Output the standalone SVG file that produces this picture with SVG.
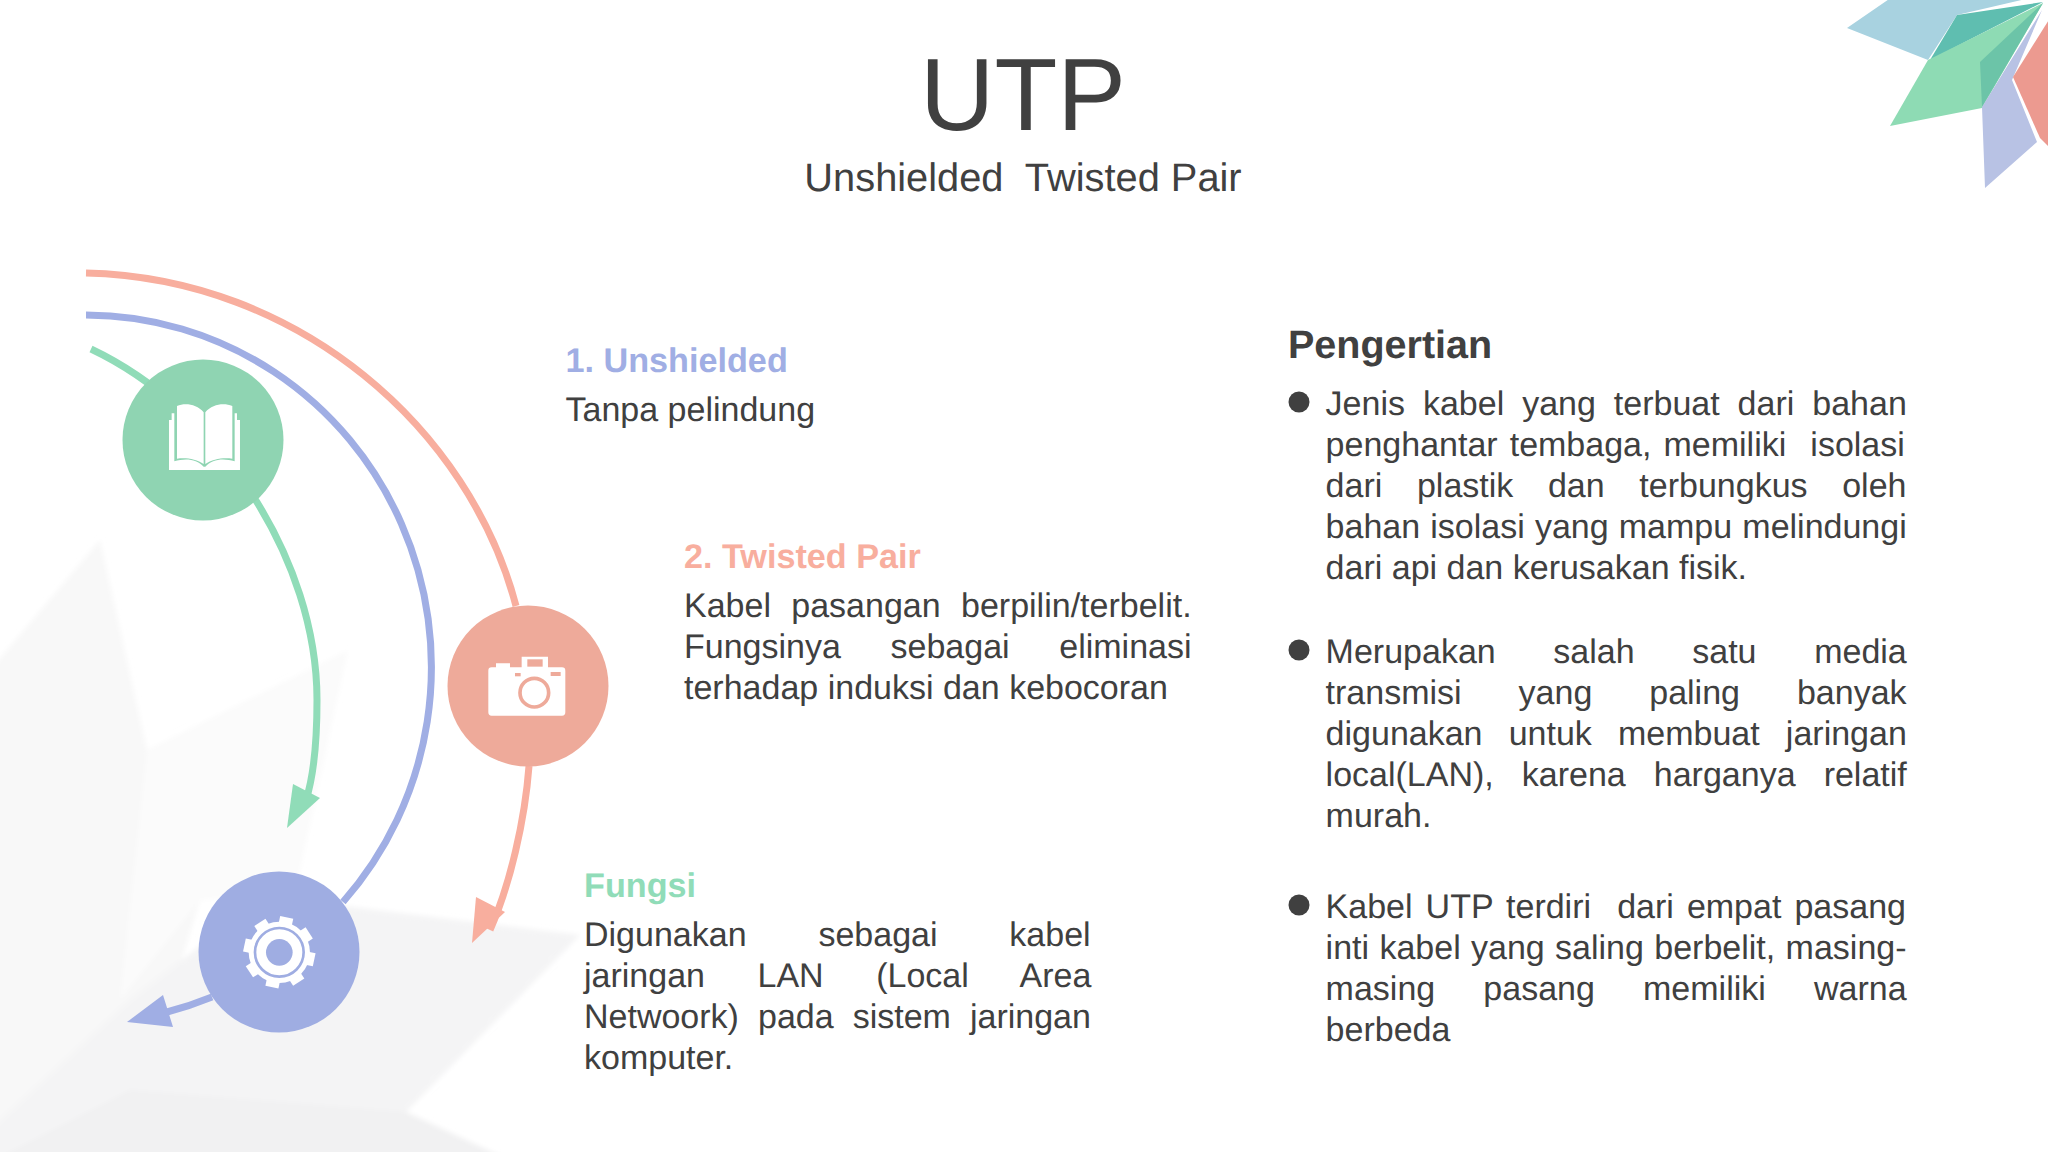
<svg xmlns="http://www.w3.org/2000/svg" width="2048" height="1152" viewBox="0 0 2048 1152">
<style>
text{font-family:"Liberation Sans",Arial,sans-serif;fill:#404040;font-size:34px;text-rendering:geometricPrecision}
.h{font-weight:bold;font-size:34.2px}
.cg{fill:none;stroke:#90dcb8;stroke-width:7}
.cb{fill:none;stroke:#a0aee4;stroke-width:7}
.cs{fill:none;stroke:#f8ae9e;stroke-width:7}
.ag{fill:#90dcb8}.ab{fill:#a0aee4}.as{fill:#f8ae9e}
.w{fill:#fff}
</style>
<defs>
<filter id="soft" x="-5%" y="-5%" width="110%" height="110%"><feGaussianBlur stdDeviation="2.5"/></filter>
<filter id="soft2" x="-5%" y="-5%" width="110%" height="110%"><feGaussianBlur stdDeviation="0.7"/></filter>
</defs>
<rect width="2048" height="1152" fill="#fff"/>
<g id="background" filter="url(#soft)">
<polygon points="100,540 -10,670 -10,1162 120,1162 200,900 147,750" fill="#f8f8f8"/>
<polygon points="147,750 348,650 295,893 200,900 120,1000" fill="#fbfbfb"/>
<polygon points="344,906 580,935 406,1112 513,1162 -10,1162 -10,1130 130,1000 260,900" fill="#f4f4f5"/>
<polygon points="-10,1162 130,1090 406,1112 513,1162" fill="#f1f1f2"/>
</g>
<g id="corner" filter="url(#soft2)">
<polygon points="1895,-5 1847,28 1928,60 1957,15 2043,-5" fill="#a8d2e0"/>
<polygon points="1957,15 2043,2 1930,60" fill="#5fbeb0"/>
<polygon points="1928,60 2043,3 1982,108 1890,126" fill="#8edbb4"/>
<polygon points="1980,62 2043,3 1982,107" fill="#6cc4a8"/>
<polygon points="1982,107 2042,10 2012,80 2037,142 1985,188" fill="#b8c2e4"/>
<polygon points="2055,10 2013,77 2040,138 2055,153" fill="#ec9a90"/>
</g>
<g id="connectors">
<path class="cs" d="M86 273C300 278 470 430 516 606"/>
<path class="cs" d="M529 766C525 820 510 885 490 930"/>
<polygon class="as" points="476,897 505,912 472,943"/>
<path class="cb" d="M86 315A346 352 0 0 1 343 902"/>
<path class="cb" d="M212 997Q190 1006 167 1012"/>
<polygon class="ab" points="163,995 173,1027 127,1022"/>
<path class="cg" d="M91 349C220 410 317 560 317 700C317 740 314 775 306 800"/>
<polygon class="ag" points="293,784 320,798 287,828"/>
</g>
<g id="node-book">
<circle cx="203" cy="440" r="80.5" fill="#8fd4b2"/>
<g transform="translate(60 250) scale(.3333)" class="w">
<path d="M351 468C375 458 410 462 431 487V642C410 626 375 622 351 626Z"/>
<path d="M436 487C457 462 492 458 517 468V626C492 622 457 626 436 642Z"/>
<path d="M327 510H335V490H343V634C375 624 410 626 431 650H436C457 626 492 624 524 634V490H531V510H540V660H327Z"/>
</g>
</g>
<g id="node-camera">
<circle cx="528" cy="686" r="80.5" fill="#eeaa9a"/>
<g transform="translate(420 580) scale(.3333)">
<path class="w" d="M205 272Q205 262 215 262H228V250H270V262H305V230H384V262H426Q436 262 436 272V397Q436 407 426 407H215Q205 407 205 397Z"/>
<rect x="322" y="238" width="46" height="22" fill="#eeaa9a"/>
<rect x="285" y="279" width="17" height="10" fill="#eeaa9a"/>
<rect x="392" y="276" width="30" height="12" fill="#eeaa9a"/>
<circle cx="343" cy="338" r="43" fill="#fff" stroke="#eeaa9a" stroke-width="11"/>
</g>
</g>
<g id="node-gear">
<circle cx="279" cy="952" r="80.5" fill="#9fade2"/>
<g transform="translate(100 780) scale(.3333)">
<g class="w">
<circle cx="538" cy="517" r="92"/>
<rect x="518" y="410" width="40" height="30" transform="rotate(12 538 517)"/>
<rect x="518" y="410" width="40" height="30" transform="rotate(57 538 517)"/>
<rect x="518" y="410" width="40" height="30" transform="rotate(102 538 517)"/>
<rect x="518" y="410" width="40" height="30" transform="rotate(147 538 517)"/>
<rect x="518" y="410" width="40" height="30" transform="rotate(192 538 517)"/>
<rect x="518" y="410" width="40" height="30" transform="rotate(237 538 517)"/>
<rect x="518" y="410" width="40" height="30" transform="rotate(282 538 517)"/>
<rect x="518" y="410" width="40" height="30" transform="rotate(327 538 517)"/>
</g>
<circle cx="538" cy="517" r="73" fill="none" stroke="#9fade2" stroke-width="8"/>
<circle cx="538" cy="517" r="40" fill="#9fade2"/>
</g>
</g>
<g id="title">
<text x="1023" y="130" text-anchor="middle" style="font-size:103px">UTP</text>
<text x="1023" y="191" text-anchor="middle" xml:space="preserve" style="font-size:39.8px">Unshielded  Twisted Pair</text>
</g>
<g id="label-unshielded">
<text class="h" x="565.5" y="372" style="fill:#a0aee4">1. Unshielded</text>
<text x="565.5" y="421">Tanpa pelindung</text>
</g>
<g id="label-twisted">
<text class="h" x="684" y="568" style="fill:#f8ae9e">2. Twisted Pair</text>
<text x="684" y="617" word-spacing="10.9">Kabel pasangan berpilin/terbelit.</text>
<text x="684" y="658" word-spacing="40.2">Fungsinya sebagai eliminasi</text>
<text x="684" y="699">terhadap induksi dan kebocoran</text>
</g>
<g id="label-fungsi">
<text class="h" x="584" y="897" style="fill:#90dcb8">Fungsi</text>
<text x="584" y="946" word-spacing="62.4">Digunakan sebagai kabel</text>
<text x="584" y="986.5" word-spacing="43.1">jaringan LAN (Local Area</text>
<text x="584" y="1027.5" word-spacing="9.6">Netwoork) pada sistem jaringan</text>
<text x="584" y="1068.5">komputer.</text>
</g>
<g id="panel-pengertian">
<text class="h" x="1288" y="358" style="font-size:39.5px">Pengertian</text>
<circle cx="1299" cy="402" r="10.5" fill="#404040"/>
<text x="1325.6" y="415" word-spacing="8.5">Jenis kabel yang terbuat dari bahan</text>
<text x="1325.6" y="456" word-spacing="2.6" xml:space="preserve">penghantar tembaga, memiliki  isolasi</text>
<text x="1325.6" y="497" word-spacing="25.2">dari plastik dan terbungkus oleh</text>
<text x="1325.6" y="538" word-spacing="0.7">bahan isolasi yang mampu melindungi</text>
<text x="1325.6" y="579">dari api dan kerusakan fisik.</text>
<circle cx="1299" cy="650" r="10.5" fill="#404040"/>
<text x="1325.6" y="662.5" word-spacing="48.2">Merupakan salah satu media</text>
<text x="1325.6" y="703.5" word-spacing="47.5">transmisi yang paling banyak</text>
<text x="1325.6" y="744.5" word-spacing="16.7">digunakan untuk membuat jaringan</text>
<text x="1325.6" y="785.5" word-spacing="18.6">local(LAN), karena harganya relatif</text>
<text x="1325.6" y="826.5">murah.</text>
<circle cx="1299" cy="905" r="10.5" fill="#404040"/>
<text x="1325.6" y="917.5" word-spacing="3.6" xml:space="preserve">Kabel UTP terdiri  dari empat pasang</text>
<text x="1325.6" y="958.5" word-spacing="0.9">inti kabel yang saling berbelit, masing-</text>
<text x="1325.6" y="999.5" word-spacing="38.7">masing pasang memiliki warna</text>
<text x="1325.6" y="1040.5">berbeda</text>
</g>
</svg>
